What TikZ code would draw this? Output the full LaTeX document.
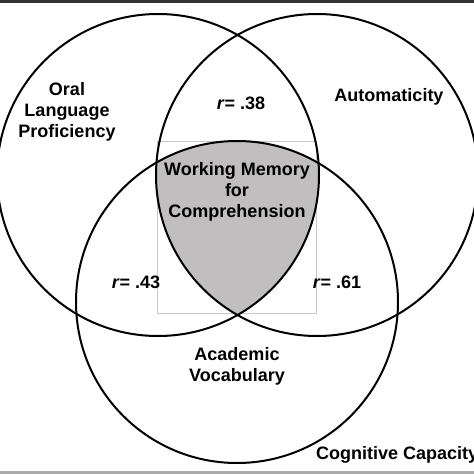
\documentclass[tikz,border=0pt]{standalone}
\usepackage{fontspec}
\setmainfont{Liberation Sans}
\usepackage{tikz}

\definecolor{wmgray}{RGB}{192,190,190}
\definecolor{boxline}{RGB}{200,200,200}
\tikzset{
  ring/.style={line width=2pt, draw=black},
  lbl/.style={font=\fontsize{18}{21}\selectfont\bfseries, align=center, inner sep=0pt}
}

\begin{document}
\begin{tikzpicture}[x=1pt,y=-1pt]
          \useasboundingbox (0,0) rectangle (474,474);
          \clip (0,0) rectangle (474,474);
          \fill[white] (0,0) rectangle (474,474);
          % frame bars
          \fill[black!80] (0,0) rectangle (474,2.5);
          \fill[black!33] (0,471) rectangle (474,474);

          % light box behind the centre
          \draw[boxline, line width=0.7pt] (157,141) rectangle (316,313);

          % shaded common part
          \begin{scope}
            \clip (158,175) circle (161);
            \clip (317,175) circle (161);
            \fill[wmgray] (237,302) circle (161);
          \end{scope}

          \draw[ring] (158,175) circle (161);
          \draw[ring] (317,175) circle (161);
          \draw[ring] (237,302) circle (161);

          \node[lbl] (oral) at (67,112) {Oral\\Language\\Proficiency};
          \node[lbl] (auto) at (389,97) {Automaticity};
          \node[lbl] (wm) at (237,192) {Working Memory\\for\\Comprehension};
          \node[lbl] (acad) at (237,366) {Academic\\Vocabulary};
          \node[lbl, anchor=west] (cog) at (316,455) {Cognitive Capacity};

          % correlations
          \node[lbl] (r38) at (241,103) {\textit{r}= .38};
          \node[lbl] (r43) at (136,282) {\textit{r}= .43};
          \node[lbl] (r61) at (337,282) {\textit{r}= .61};
        \end{tikzpicture}
\end{document}
